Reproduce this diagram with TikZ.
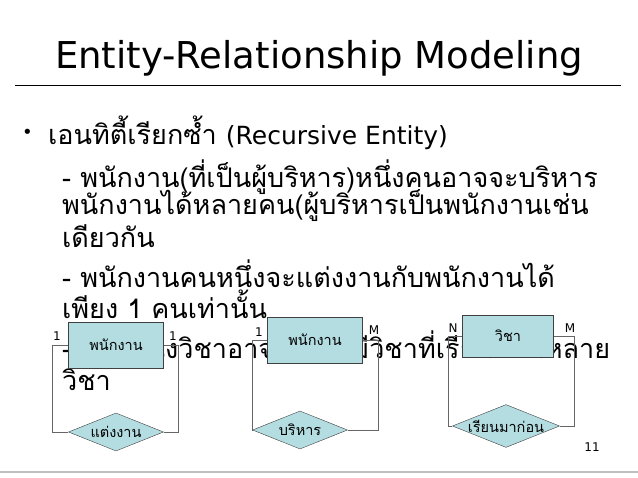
\documentclass[tikz,border=0pt]{standalone}
\usepackage{fontspec}
\setmainfont{DejaVu Sans}
\newfontfamily\thai[Script=Thai]{Loma}
\usetikzlibrary{shapes.geometric}
\definecolor{ent}{HTML}{B4DDE2}
\tikzset{
 ent/.style={draw=black!75,fill=ent,minimum width=95pt,minimum height=46pt,font=\thai\fontsize{14.5}{16}\selectfont,inner sep=0},
 rel/.style={diamond,draw=black!75,fill=ent,minimum width=95pt,minimum height=38pt,inner sep=0,font=\thai\fontsize{14.5}{16}\selectfont,aspect=2.5},
 wire/.style={draw=black!60,line width=0.6pt},
 card/.style={font=\fontsize{12}{14}\selectfont,inner sep=0},
 body/.style={anchor=west,inner sep=0,font=\thai\fontsize{27}{30}\selectfont}
}
\pgfdeclarelayer{bg}\pgfsetlayers{bg,main}
\begin{document}
\begin{tikzpicture}[x=1pt,y=-1pt]
\useasboundingbox (0,0) rectangle (638,478);
\begin{pgfonlayer}{bg}
\node[inner sep=0,font=\fontsize{37}{40}\selectfont] (title) at (319,58) {Entity-Relationship Modeling};
\draw[line width=1pt] (15,86) coordinate (u1) -- (621,86) coordinate (u2);
\node[anchor=west,inner sep=0,font=\fontsize{18}{20}\selectfont] (b) at (22,134) {•};
\node[body] (l1) at (48,133) {เอนทิตี้เรียกซ้ำ {\fontspec{DejaVu Sans}\fontsize{25}{28}\selectfont(Recursive Entity)}};
\node[body] (l2) at (62,177) {- พนักงาน(ที่เป็นผู้บริหาร)หนึ่งคนอาจจะบริหาร};
\node[body] (l3) at (62,206) {พนักงานได้หลายคน(ผู้บริหารเป็นพนักงานเช่น};
\node[body] (l4) at (62,236) {เดียวกัน};
\node[body] (l5) at (62,274) {- พนักงานคนหนึ่งจะแต่งงานกับพนักงานได้};
\node[body] (l6) at (62,304) {เพียง 1 คนเท่านั้น};
\node[body] (l7) at (62,345) {- วิชาหนึ่งวิชาอาจจะต้องมีวิชาที่เรียนก่อนหลาย};
\node[body] (l8) at (62,380) {วิชา};
\end{pgfonlayer}
% diagram 1
\node[ent] (e1) at (116,345) {พนักงาน};
\node[rel] (r1) at (116,432) {แต่งงาน};
\coordinate (a1) at (52,345); \coordinate (b1) at (52,432);
\coordinate (c1) at (178,345); \coordinate (d1) at (178,432);
\begin{pgfonlayer}{bg}
\path[wire] (e1.west) -- (a1) -- (b1) -- (r1.west);
\path[wire] (e1.east) -- (c1) -- (d1) -- (r1.east);
\end{pgfonlayer}
\node[card] at (57,336) {1};
\node[card] at (173,336) {1};
% diagram 2
\node[ent] (e2) at (315,340) {พนักงาน};
\node[rel] (r2) at (300,430) {บริหาร};
\coordinate (a2) at (252,340); \coordinate (b2) at (252,430);
\coordinate (c2) at (378,340); \coordinate (d2) at (378,430);
\begin{pgfonlayer}{bg}
\path[wire] (e2.west) -- (a2) -- (b2) -- (r2.west);
\path[wire] (e2.east) -- (c2) -- (d2) -- (r2.east);
\end{pgfonlayer}
\node[card] at (259,332) {1};
\node[card] at (374,330) {M};
% diagram 3
\node[ent,minimum width=91pt,minimum height=42pt] (e3) at (508,336) {วิชา};
\node[rel] (r3) at (506,426) {เรียนมาก่อน};
\coordinate (a3) at (448,336); \coordinate (b3) at (448,426);
\coordinate (c3) at (574,336); \coordinate (d3) at (574,426);
\begin{pgfonlayer}{bg}
\path[wire] (e3.west) -- (a3) -- (b3) -- (r3.west);
\path[wire] (e3.east) -- (c3) -- (d3) -- (r3.east);
\end{pgfonlayer}
\node[card] at (453,328) {N};
\node[card] at (570,328) {M};
\node[card] (pg) at (592,447) {11};
\draw[black!25,line width=1.5pt] (0,472) coordinate (g1) -- (638,472) coordinate (g2);
\end{tikzpicture}
\end{document}
